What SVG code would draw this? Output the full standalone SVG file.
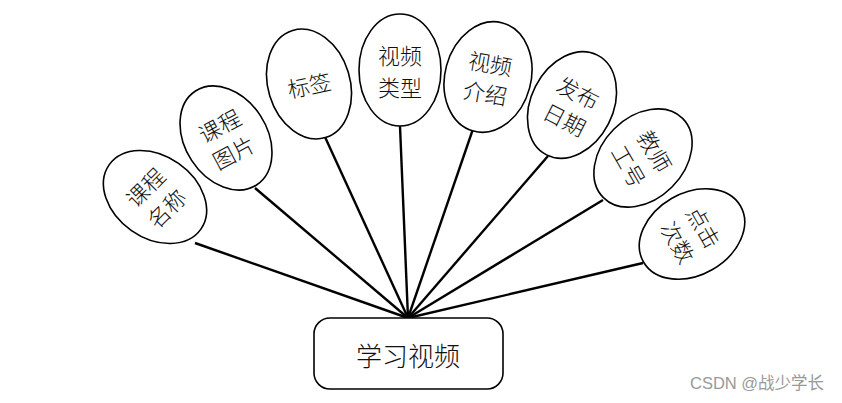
<svg xmlns="http://www.w3.org/2000/svg" width="842" height="403" viewBox="0 0 842 403">
<style>
.e{fill:#fff;stroke:#000;stroke-width:1.6}
.t{font-family:"Noto Sans CJK SC","Noto Sans CJK JP",sans-serif;font-size:22px;font-weight:300;fill:#111;text-anchor:middle;dominant-baseline:central}
.c line{stroke:#000;stroke-width:2.4}
.wm{font-family:"Liberation Sans","Noto Sans CJK SC",sans-serif;font-size:16.5px;fill:#999}
</style>
<rect width="842" height="403" fill="#fff"/>
<g class="c" id="connectors">
<line x1="195" y1="243" x2="408" y2="318"/>
<line x1="255" y1="188" x2="408" y2="318"/>
<line x1="325" y1="137" x2="408" y2="318"/>
<line x1="400" y1="126" x2="408" y2="318"/>
<line x1="473" y1="129" x2="408" y2="318"/>
<line x1="548" y1="156" x2="408" y2="318"/>
<line x1="603" y1="200" x2="408" y2="318"/>
<line x1="643" y1="263" x2="408" y2="318"/>
</g>
<g id="n1" transform="translate(155,197) rotate(-55)">
<ellipse class="e" rx="41" ry="56"/>
<g transform="rotate(10)"><text class="t" y="-15">课程</text><text class="t" y="15">名称</text></g>
</g>
<g id="n2" transform="translate(226,138) rotate(-33)">
<ellipse class="e" rx="41" ry="56"/>
<g transform="rotate(5)"><text class="t" y="-15">课程</text><text class="t" y="15">图片</text></g>
</g>
<g id="n3" transform="translate(309,84) rotate(-17)">
<ellipse class="e" rx="41" ry="56"/>
<g transform="rotate(5)"><text class="t">标签</text></g>
</g>
<g id="n4" transform="translate(400,70)">
<ellipse class="e" rx="41" ry="56"/>
<text class="t" y="-16">视频</text><text class="t" y="16">类型</text>
</g>
<g id="n5" transform="translate(488,77) rotate(15)">
<ellipse class="e" rx="43" ry="56"/>
<g transform="rotate(-5)"><text class="t" y="-15">视频</text><text class="t" y="15">介绍</text></g>
</g>
<g id="n6" transform="translate(572,105) rotate(27)">
<ellipse class="e" rx="41" ry="56"/>
<g transform="rotate(0)"><text class="t" y="-15">发布</text><text class="t" y="15">日期</text></g>
</g>
<g id="n7" transform="translate(643,158) rotate(45)">
<ellipse class="e" rx="41" ry="56"/>
<g transform="rotate(15)"><text class="t" y="-15">教师</text><text class="t" y="15">工号</text></g>
</g>
<g id="n8" transform="translate(692,234) rotate(60)">
<ellipse class="e" rx="41" ry="56"/>
<g transform="rotate(0)"><text class="t" y="-15">点击</text><text class="t" y="15">次数</text></g>
</g>
<g id="root">
<rect class="e" x="314" y="318" width="189" height="71" rx="16"/>
<text class="t" x="408" y="354" style="font-size:26px">学习视频</text>
</g>
<text class="wm" x="690" y="389">CSDN @战少学长</text>
</svg>
